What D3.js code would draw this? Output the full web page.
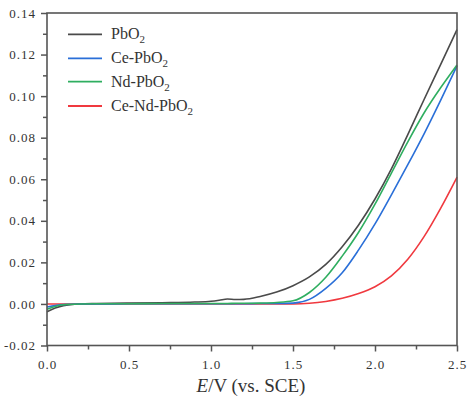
<!DOCTYPE html>
<html>
<head>
<meta charset="utf-8">
<script src="https://cdn.jsdelivr.net/npm/d3@7"></script>
<style>
  html, body { margin: 0; padding: 0; background: #fff; }
  svg { display: block; }
</style>
</head>
<body>
<svg id="chart" width="474" height="397"></svg>
<script>
// ---- data ----
const potential = [0, 0.05, 0.1, 0.2, 0.3, 0.5, 0.7, 0.9, 1.0, 1.05, 1.1, 1.15, 1.2, 1.3, 1.4, 1.5, 1.6, 1.7, 1.8, 1.9, 2.0, 2.1, 2.2, 2.3, 2.4, 2.5];
const seriesNames = ["PbO2", "Ce-PbO2", "Nd-PbO2", "Ce-Nd-PbO2"];
const pbo2   = [-0.0038, -0.0020, -0.0008, 0.0000, 0.0002, 0.0004, 0.0006, 0.0009, 0.0013, 0.0018, 0.0024, 0.0021, 0.0022, 0.0036, 0.0057, 0.0088, 0.0130, 0.0190, 0.0275, 0.0380, 0.0505, 0.0650, 0.0815, 0.0985, 0.1152, 0.1320];
const cePbo2 = [-0.0015, -0.0008, -0.0003, 0.0000, 0.0000, 0.0001, 0.0001, 0.0001, 0.0001, 0.0001, 0.0001, 0.0001, 0.0001, 0.0002, 0.0002, 0.0004, 0.0022, 0.0075, 0.0150, 0.0260, 0.0385, 0.0525, 0.0670, 0.0820, 0.0980, 0.1146];
const ndPbo2 = [-0.0025, -0.0012, -0.0004, 0.0000, 0.0001, 0.0001, 0.0002, 0.0002, 0.0002, 0.0002, 0.0002, 0.0003, 0.0003, 0.0004, 0.0007, 0.0015, 0.0055, 0.0128, 0.0230, 0.0345, 0.0480, 0.0630, 0.0780, 0.0920, 0.1040, 0.1150];
const ceNdPbo2 = [0.0000, 0.0000, 0.0000, 0.0000, 0.0000, 0.0000, 0.0000, 0.0000, 0.0000, 0.0000, 0.0000, 0.0000, 0.0000, 0.0000, 0.0000, 0.0000, 0.0003, 0.0012, 0.0027, 0.0050, 0.0083, 0.0135, 0.0215, 0.0325, 0.0460, 0.0610];
const xTicks = [0, 0.5, 1.0, 1.5, 2.0, 2.5];
const yTicks = [-0.02, 0, 0.02, 0.04, 0.06, 0.08, 0.10, 0.12, 0.14];
const colors = ["#4a4a4a", "#2a6fd8", "#2fae60", "#f0393f"];

const seriesValues = [pbo2, cePbo2, ndPbo2, ceNdPbo2];

// ---- layout ----
const svg = d3.select("#chart");
const L = 47, R = 457, T = 13, B = 345.5;
const x = d3.scaleLinear().domain([0, 2.5]).range([L, R]);
const y = d3.scaleLinear().domain([-0.02, 0.14]).range([B, T]);
const axisColor = "#555";
const tickFont = "'Liberation Serif', 'DejaVu Serif', serif";

// x axis
const xAxis = svg.append("g").attr("transform", `translate(0,${B})`)
  .call(d3.axisBottom(x).tickValues(xTicks).tickSize(6).tickPadding(6).tickFormat(d3.format(".1f")));
const xMinor = svg.append("g").attr("transform", `translate(0,${B})`)
  .call(d3.axisBottom(x).tickValues(d3.range(0.25, 2.5, 0.5)).tickSize(4).tickFormat(""));

// y axis
const yFmt = d => (d < 0 ? "-" : "") + d3.format(".2f")(Math.abs(d));
const yAxis = svg.append("g").attr("transform", `translate(${L},0)`)
  .call(d3.axisLeft(y).tickValues(yTicks).tickSize(6).tickPadding(5).tickFormat(yFmt));
const yMinor = svg.append("g").attr("transform", `translate(${L},0)`)
  .call(d3.axisLeft(y).tickValues(d3.range(-0.01, 0.14, 0.02)).tickSize(4).tickFormat(""));

[xAxis, xMinor, yAxis, yMinor].forEach(g => {
  g.select(".domain").remove();
  g.selectAll("line").attr("stroke", axisColor).attr("stroke-width", 1.5);
  g.selectAll("text").attr("fill", "#333").style("font-family", tickFont)
    .style("font-size", "13px").style("letter-spacing", "1px");
});
xAxis.selectAll("text").attr("dy", "0.85em");

// curves
const line = d3.line().x((d, i) => x(potential[i])).y(d => y(d)).curve(d3.curveMonotoneX);
const drawOrder = [0, 3, 1, 2];
drawOrder.forEach(k => {
  svg.append("path").datum(seriesValues[k])
    .attr("d", line).attr("fill", "none")
    .attr("stroke", colors[k]).attr("stroke-width", 1.6);
});

// frame
svg.append("rect").attr("x", L).attr("y", T).attr("width", R - L).attr("height", B - T)
  .attr("fill", "none").attr("stroke", axisColor).attr("stroke-width", 1.6);

// legend
const legendY = [34.3, 58.3, 81.7, 106];
seriesNames.forEach((name, i) => {
  const g = svg.append("g");
  g.append("line").attr("x1", 68).attr("x2", 102).attr("y1", legendY[i]).attr("y2", legendY[i])
    .attr("stroke", colors[i]).attr("stroke-width", 1.8);
  const t = g.append("text").attr("x", 111).attr("y", legendY[i] + 5)
    .style("font-family", tickFont).style("font-size", "16px").attr("fill", "#333");
  t.append("tspan").text(name.slice(0, -1));
  t.append("tspan").attr("dy", 4).style("font-size", "11px").text(name.slice(-1));
});

// axis title
const title = svg.append("text").attr("x", 251).attr("y", 392).attr("text-anchor", "middle")
  .style("font-family", tickFont).style("font-size", "19px").attr("fill", "#333");
title.append("tspan").style("font-style", "italic").text("E");
title.append("tspan").text("/V (vs. SCE)");
</script>
</body>
</html>
